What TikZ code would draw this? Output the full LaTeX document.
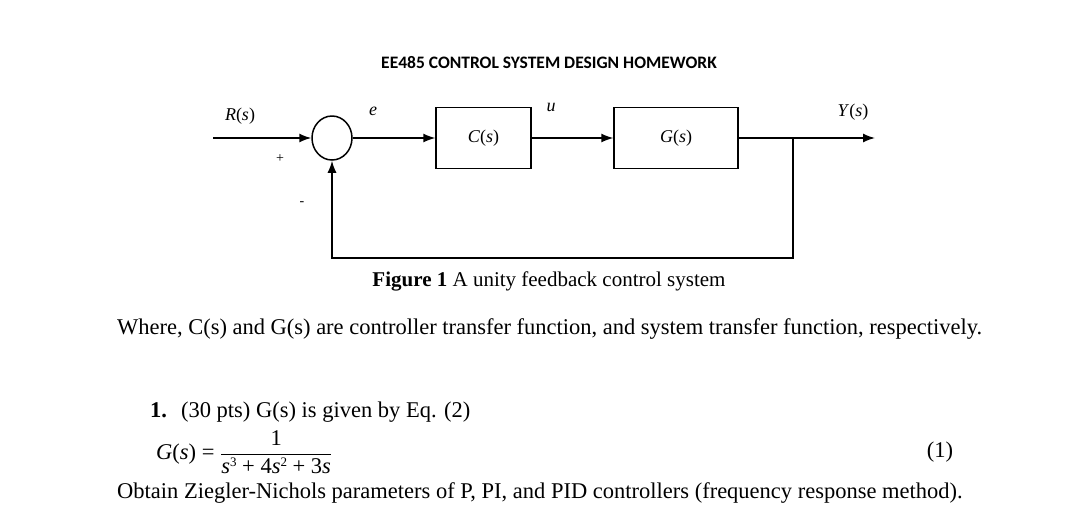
\documentclass[tikz,border=0pt]{standalone}
\usepackage{fontspec}
\setmainfont{Liberation Serif}
\newfontfamily\titlefont{Carlito}
\usetikzlibrary{calc,shapes.geometric,arrows.meta}
\tikzset{
	blockstyle/.style={rectangle, draw=black, line width=1.3, minimum height=61, inner sep=0pt},
	sumstyle/.style={ellipse, draw=black, line width=1.5, minimum width=40, minimum height=44, inner sep=0pt},
	labelstyle/.style={font=\fontsize{18}{20}\selectfont},
	textstyle/.style={font=\fontsize{22.5}{25}\selectfont, inner sep=0pt},
	sig/.style={line width=1.5, -{Latex[length=12,width=9]}}
}

\begin{document}
\begin{tikzpicture}[x=1pt, y=-1pt]
\useasboundingbox (0, 0) rectangle (1070, 512);

\def\ymain{138}
\def\yloop{258}

\node[font=\titlefont\bfseries\fontsize{17.5}{20}\selectfont] (title) at (549, 63) {EE485 CONTROL SYSTEM DESIGN HOMEWORK};

\coordinate (in) at (213, \ymain);
\node[sumstyle] (sum) at (332, \ymain) {};
\node[blockstyle, minimum width=95] (ctrl) at (483.5, \ymain) {};
\node[blockstyle, minimum width=124] (plant) at (676, \ymain) {};
\coordinate (branch) at (793, \ymain);
\coordinate (out) at (875, \ymain);
\coordinate (br1) at (793, \yloop);
\coordinate (br2) at (332, \yloop);

\node[labelstyle] (cl) at (ctrl) {\textit{C}(\textit{s})};
\node[labelstyle] (gl) at (plant) {\textit{G}(\textit{s})};
\node[labelstyle] (rl) at (240, 116) {\textit{R}(\textit{s})};
\node[labelstyle] (el) at (373, 111) {\textit{e}};
\node[labelstyle] (ul) at (551, 107) {\textit{u}};
\node[labelstyle] (yl) at (853, 112) {\textit{Y}(\textit{s})};
\node[font=\fontsize{14}{15}\selectfont] (plus) at (280, 159) {+};
\node[font=\fontsize{14}{15}\selectfont] (minus) at (302, 204) {-};

\draw[sig] (in)--(sum.west);
\draw[sig] (sum.east)--(ctrl.west);
\draw[sig] (ctrl.east)--(plant.west);
\draw[sig] (plant.east)--(out);
\draw[sig] (branch)--(br1)--(br2)--(sum.south);

\node[textstyle, font=\fontsize{21}{24}\selectfont] (caption) at (549, 281) {\textbf{Figure 1} A unity feedback control system};

\node[textstyle, anchor=north west, text width=865, align=justify] (para) at (117, 318) {Where, C(s) and G(s) are controller transfer function, and system transfer function, respectively.};
\node[textstyle, anchor=west] (q1) at (150, 412) {\textbf{1.}\hspace{14pt}(30 pts) G(s) is given by Eq. (2)};
\node[textstyle, anchor=west] (eq) at (156, 452) {\textit{G}(\textit{s}) = $\displaystyle\frac{\hbox{1}}{\hbox{\textit{s}\raisebox{7pt}{\fontsize{13}{14}\selectfont 3} + 4\textit{s}\raisebox{7pt}{\fontsize{13}{14}\selectfont 2} + 3\textit{s}}}$};
\node[textstyle] (eqno) at (940, 452) {(1)};
\node[textstyle, anchor=west] (q1b) at (117, 493) {Obtain Ziegler-Nichols parameters of P, PI, and PID controllers (frequency response method).};
\end{tikzpicture}
\end{document}
